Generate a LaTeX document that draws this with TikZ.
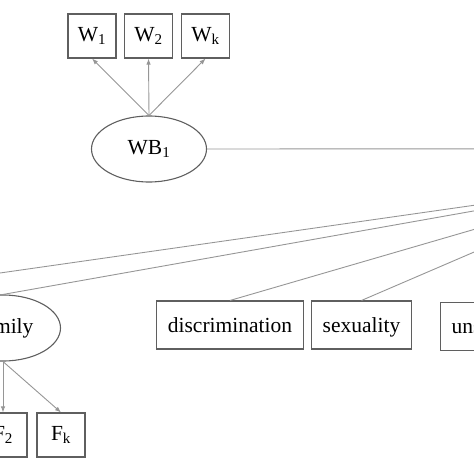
\documentclass[tikz,border=0pt]{standalone}
\usepackage{fontspec}
\setmainfont{Liberation Serif}
\usetikzlibrary{shapes.geometric,arrows.meta}

\definecolor{edgegray}{RGB}{150,150,150}
\definecolor{boxgray}{RGB}{95,95,95}

\tikzset{
  obsbox/.style={draw=boxgray, line width=1.1pt, minimum width=48pt, minimum height=44pt,
    inner sep=0pt, font=\fontsize{21.5}{24}\selectfont},
  itembox/.style={obsbox, minimum height=48pt, inner xsep=11pt, text height=17pt, text depth=3pt},
  latent/.style={ellipse, draw=boxgray, line width=1.1pt, minimum width=115pt, minimum height=66pt,
    inner sep=0pt, font=\fontsize{21.5}{24}\selectfont},
  link/.style={draw=edgegray, line width=0.9pt},
  load/.style={link, -{Latex[length=6pt,width=4.5pt]}}
}

\begin{document}
\begin{tikzpicture}[x=1pt,y=-1pt]
    % rand en knipvlak
    \useasboundingbox (0,0) rectangle (474,474);
    \clip (0,0) rectangle (474,474);

    % latente factor WB1 met indicatoren
    \node[latent] (wb1) at (149,149) {WB\textsubscript{1}};
    \node[obsbox] (w1) at (92,36) {W\textsubscript{1}};
    \node[obsbox] (w2) at (148.5,36) {W\textsubscript{2}};
    \node[obsbox] (wk) at (205.5,36) {W\textsubscript{k}};
    \draw[load] (wb1.north) -- (w1.south);
    \draw[load] (wb1.north) -- (w2.south);
    \draw[load] (wb1.north) -- (wk.south);

    % latente factor Family met indicatoren
    \node[latent] (family) at (3,328) {Family};
    \node[obsbox] (f2) at (3,435) {F\textsubscript{2}};
    \node[obsbox] (fk) at (61,435) {F\textsubscript{k}};
    \draw[load] (family.south) -- (f2.north);
    \draw[load] (family.south) -- (fk.north);

    % losse items
    \node[itembox] (discr) at (230,325) {discrimination};
    \node[itembox] (sexual) at (361.5,325) {sexuality};
    \node[itembox, anchor=west] (unsafe) at (440,326.5) {unsafe};

    % verbindingen naar rechts (buiten beeld)
    \coordinate (hub) at (637,182);
    \coordinate (wbend) at (620,148.7);
    \coordinate (leftend) at (-154,295);
    \draw[link] (wb1.east) -- (wbend);
    \draw[link] (hub) -- (leftend);
    \draw[link] (hub) -- (family.north);
    \draw[link] (hub) -- (discr.north);
    \draw[link] (hub) -- (sexual.north);
\end{tikzpicture}
\end{document}
